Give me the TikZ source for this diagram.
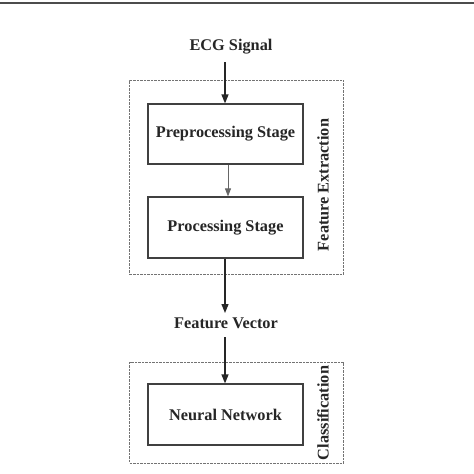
\documentclass[tikz,border=0pt]{standalone}
\usepackage{fontspec}
\setmainfont{Liberation Serif}
\usetikzlibrary{arrows.meta}
\begin{document}
\begin{tikzpicture}[x=1pt,y=-1pt,
  stagebox/.style={draw=black!75,line width=1.2pt,minimum width=155pt,minimum height=60pt,inner sep=0pt,font=\bfseries\fontsize{16.3}{19}\selectfont,text=black!85},
  groupbox/.style={draw=black!55,line width=1pt,dash pattern=on 2.5pt off 1pt},
  lbl/.style={font=\bfseries\fontsize{16.3}{19}\selectfont,text=black!85,inner sep=0pt},
  grouplbl/.style={font=\bfseries\fontsize{16.3}{19}\selectfont,text=black!85,inner sep=0pt,rotate=90},
  flow/.style={draw=black!85,line width=1.2pt,-{Triangle[width=7pt,length=9pt]}},
  thinflow/.style={draw=black!60,line width=0.8pt,-{Triangle[width=6pt,length=8pt]}}]
\useasboundingbox (0,0) rectangle (474,474);
\fill[white] (0,0) rectangle (474,474);
\draw[black!70,line width=2pt] (0,3) -- (474,3);
% groups
\node[groupbox,minimum width=214pt,minimum height=194pt,inner sep=0pt] (fe) at (236.5,177) {};
\node[groupbox,minimum width=214pt,minimum height=101pt,inner sep=0pt] (cl) at (236.5,412.5) {};
\node[grouplbl] (felbl) at (323,185) {Feature Extraction};
\node[grouplbl] (cllbl) at (323,413) {Classification};
% stages
\node[stagebox,minimum height=60pt] (pre) at (225.5,134) {Preprocessing Stage};
\node[stagebox,minimum height=61pt] (proc) at (225.5,227.5) {Processing Stage};
\node[stagebox,minimum height=61pt] (nn) at (225.5,414.5) {Neural Network};
% labels
\node[lbl] (ecg) at (231,47) {ECG Signal};
\node[lbl] (fv) at (226,323) {Feature Vector};
% connectors
\coordinate (ecgend) at (225,62);
\draw[flow] (ecgend) -- (pre.north -| ecgend);
\draw[thinflow] (pre.south -| 228,0) -- (proc.north -| 228,0);
\draw[flow] (proc.south -| 225,0) -- (225,313);
\coordinate (fvend) at (225,337);
\draw[flow] (fvend) -- (nn.north -| fvend);
\end{tikzpicture}
\end{document}
